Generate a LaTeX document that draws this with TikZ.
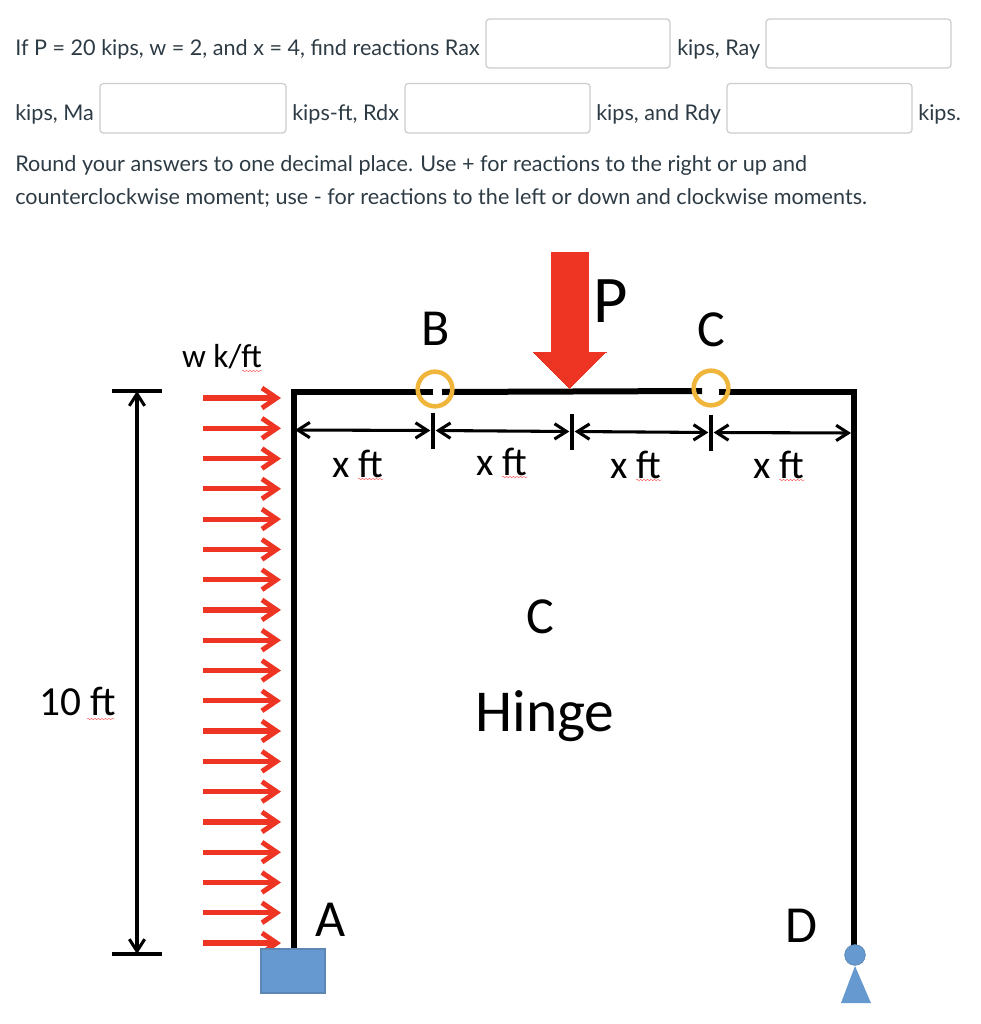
\documentclass[tikz,border=0pt]{standalone}
\usepackage{fontspec}
\setmainfont{Lato}
\newfontfamily\labelfont{Carlito}
\usetikzlibrary{arrows.meta,decorations.pathmorphing}
\definecolor{loadred}{HTML}{EE3524}
\definecolor{hingegold}{HTML}{F0B63C}
\definecolor{supportblue}{HTML}{6699CF}
\definecolor{supportedge}{HTML}{5C86B4}
\definecolor{bodytext}{HTML}{2D3B45}
\tikzset{
    prompt/.style={anchor=base west, inner sep=0pt, text=bodytext, font=\fontsize{16.2}{18}\selectfont},
    answerbox/.style={draw=black!20, line width=0.9pt, fill=white, rounded corners=2.5pt},
    framing/.style={line width=4.5pt},
    dimline/.style={line width=2.3pt, {Straight Barb[length=9pt,width=11.5pt,line width=2.3pt]}-{Straight Barb[length=9pt,width=11.5pt,line width=2.3pt]}},
    dimtick/.style={line width=2.4pt},
    loadarrow/.style={loadred, line width=3.9pt, -{Straight Barb[length=11pt,width=15pt,line width=3.7pt]}},
    hingering/.style={draw=hingegold, line width=3.4pt, circle, minimum size=26pt, inner sep=0pt},
    spellmark/.style={red!65, line width=0.35pt, decorate, decoration={snake, amplitude=0.5pt, segment length=2.6pt}},
    tag/.style={inner sep=0pt, font=\labelfont\fontsize{39}{42}\selectfont},
    smalltag/.style={inner sep=0pt, font=\labelfont\fontsize{30}{32}\selectfont},
}
\begin{document}
\begin{tikzpicture}[x=0.75pt, y=-0.75pt]
    \useasboundingbox (0,0) rectangle (981,1024);

    % question text
    \node[prompt] (line1a) at (15,56) {If P = 20 kips, w = 2, and x = 4, find reactions Rax};
    \node[prompt] (line1b) at (677,56) {kips, Ray};
    \node[prompt] (line2a) at (15,120.5) {kips, Ma};
    \node[prompt] (line2b) at (292,120.5) {kips-ft, Rdx};
    \node[prompt] (line2c) at (596,120.5) {kips, and Rdy};
    \node[prompt] (line2d) at (918,120.5) {kips.};
    \node[prompt] (line3) at (15,171.5) {Round your answers to one decimal place. Use + for reactions to the right or up and};
    \node[prompt] (line4) at (15,204) {counterclockwise moment; use - for reactions to the left or down and clockwise moments.};

    % answer boxes
    \draw[answerbox] (486,19) rectangle (670,68);
    \draw[answerbox] (766,19) rectangle (951,68);
    \draw[answerbox] (100,83.5) rectangle (286,133);
    \draw[answerbox] (405,83.5) rectangle (590,133);
    \draw[answerbox] (727,83.5) rectangle (912,133);

    % frame corners and hinge gaps
    \coordinate (base) at (293.5,950);
    \coordinate (corner1) at (293.5,392);
    \coordinate (gapB1) at (433,392);
    \coordinate (gapB2) at (442,392);
    \coordinate (gapC1) at (702,391);
    \coordinate (gapC2) at (719,392);
    \coordinate (corner2) at (853.5,392);
    \coordinate (foot) at (853.5,950);

    % distributed load
    \foreach \i in {0,...,18}
        \draw[loadarrow] (203,398+30.28*\i) -- (281,398+30.28*\i);

    % frame
    \draw[framing, line join=miter] (base) -- (corner1) -- (gapB1);
    \draw[framing] (gapB2) -- (gapC1);
    \draw[framing, line join=miter] (gapC2) -- (corner2) -- (foot);

    % hinges
    \node[hingering] (ringB) at (435,389) {};
    \node[hingering] (ringC) at (711,388) {};

    % point load
    \filldraw[loadred, line width=0pt] (551,252) -- (588,252) -- (588,352) -- (606,352) -- (569.5,388)
        -- (533,352) -- (551,352) -- cycle;

    % supports
    \draw[draw=supportedge, fill=supportblue, line width=0.8pt] (261,949) rectangle (325,993);
    \fill[supportblue] (855,966) -- (871,1003) -- (841,1003) -- cycle;
    \node[circle, fill=supportblue, draw=supportedge, line width=0.5pt, minimum size=15.5pt, inner sep=0pt] (pin) at (855,955) {};

    % span dimensions
    \coordinate (d0) at (295,430);
    \coordinate (d1) at (433,430.5);
    \coordinate (d2) at (572,431.5);
    \coordinate (d3) at (711,432.5);
    \coordinate (d4) at (851,433);
    \draw[dimline] (d0) -- ([xshift=-2pt]d1);
    \draw[dimline] ([xshift=2pt]d1) -- ([xshift=-2pt]d2);
    \draw[dimline] ([xshift=2pt]d2) -- ([xshift=-2pt]d3);
    \draw[dimline] ([xshift=2pt]d3) -- (d4);
    \foreach \p in {d1,d2,d3}
        \draw[dimtick] ([yshift=13.5pt]\p) -- ([yshift=-13.5pt]\p);

    % height dimension
    \coordinate (h1) at (137,391);
    \coordinate (h2) at (137,954);
    \draw[dimline, line width=2.8pt] (h1) -- (h2);
    \draw[line width=3pt] (112,391) -- (162,391);
    \draw[line width=3pt] (112,954) -- (162,954);

    % labels
    \node[smalltag, font=\labelfont\fontsize{25}{28}\selectfont] (loadname) at (222,357) {w k/ft};
    \node[tag] (labB) at (436,329) {B};
    \node[tag, font=\labelfont\fontsize{50}{54}\selectfont] (labP) at (611,301) {P};
    \node[tag] (labC) at (711,330) {C};
    \node[smalltag] (span1) at (358,464) {x ft};
    \node[smalltag] (span2) at (502,462) {x ft};
    \node[smalltag] (span3) at (636,465) {x ft};
    \node[smalltag] (span4) at (779,465) {x ft};
    \node[tag] (labHc) at (540,617) {C};
    \node[tag, font=\labelfont\fontsize{44.6}{48}\selectfont] (labHinge) at (545,716) {Hinge};
    \node[tag, font=\labelfont\fontsize{31}{34}\selectfont] (labH) at (78,701) {10 ft};
    \node[tag] (labA) at (331,920) {A};
    \node[tag] (labD) at (801,926) {D};

    % spelling marks
    \draw[spellmark] (242,371) -- (262,371);
    \draw[spellmark] (358,479) -- (383,479);
    \draw[spellmark] (502,477) -- (527,477);
    \draw[spellmark] (636,480) -- (662,480);
    \draw[spellmark] (779,480) -- (805,480);
    \draw[spellmark] (87,719) -- (115,719);
\end{tikzpicture}
\end{document}
